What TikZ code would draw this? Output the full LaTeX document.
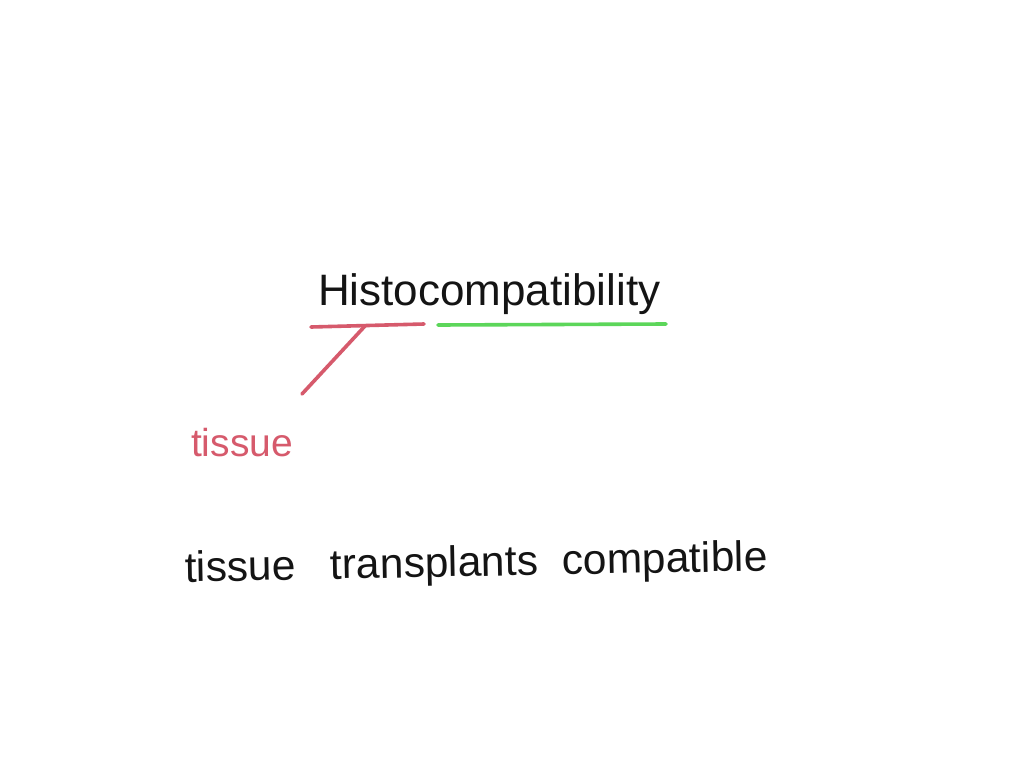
\documentclass[tikz,border=0pt]{standalone}
\usepackage{fontspec}
\setmainfont{Liberation Sans}
\definecolor{penred}{HTML}{D65A6C}
\definecolor{pengreen}{HTML}{5CD65A}
\definecolor{penblack}{HTML}{141414}
\tikzset{
  stroke/.style={line width=3.6pt, line cap=round, line join=round},
  hand/.style={inner sep=0pt, outer sep=0pt, anchor=base west},
}
\begin{document}
\begin{tikzpicture}[x=1pt,y=-1pt]
\useasboundingbox (0,0) rectangle (1024,768);
\fill[white] (0,0) rectangle (1024,768);
% title word
\node[hand, text=penblack, font=\fontsize{44}{50}\selectfont] (title) at (318,305) {Histocompatibility};
% red underline and branch
\coordinate (r1) at (311,327);
\coordinate (r2) at (424,324);
\coordinate (rj) at (365,326);
\coordinate (rend) at (302,394);
\draw[stroke, penred] (r1) -- (r2);
\draw[stroke, penred] (rj) -- (rend);
% green underline
\coordinate (g1) at (438,325);
\coordinate (g2) at (666,324);
\draw[stroke, pengreen] (g1) -- (g2);
% red label
\node[hand, text=penred, font=\fontsize{39}{45}\selectfont] (tissue) at (191,456) {tissue};
% bottom phrase
\node[hand, text=penblack, rotate=1.1, font=\fontsize{42.5}{48}\selectfont] (phrase) at (185,582) {tissue\hspace{23pt} transplants\hspace{12pt} compatible};
\end{tikzpicture}
\end{document}
